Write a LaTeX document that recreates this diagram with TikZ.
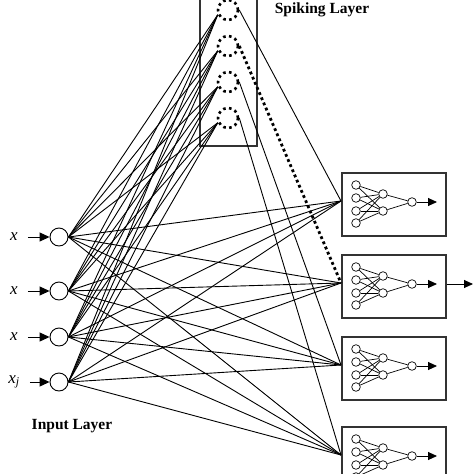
\documentclass[tikz,border=0pt]{standalone}
\usepackage{fontspec}
\setmainfont{Liberation Serif}
\usetikzlibrary{arrows.meta,
                positioning
                }

\begin{document}
\begin{tikzpicture}[x=1pt, y=-1pt,
     inpt/.style = {shape=circle, draw, minimum size=18pt, inner sep=0pt, line width=0.9pt},
    spike/.style = {shape=circle, draw, minimum size=20pt, inner sep=0pt,
                    line width=2.6pt, dash pattern=on 2.6pt off 3.4pt},
     mini/.style = {shape=circle, draw, minimum size=8.6pt, inner sep=0pt, line width=0.7pt},
   outbox/.style = {draw=black!80, line width=1.1pt, minimum width=104pt, minimum height=63pt,
                    inner sep=0pt},
     link/.style = {line width=0.9pt},
    dlink/.style = {line width=2.8pt, dash pattern=on 2.8pt off 2.8pt},
  inarrow/.style = {line width=1pt, -{Triangle[length=10pt,width=9pt]}, shorten <=9pt},
 miniarrow/.style = {line width=0.9pt, -{Triangle[length=9pt,width=8pt]}},
    title/.style = {font=\fontsize{15.5}{17}\selectfont\bfseries},
     xlab/.style = {font=\fontsize{17}{19}\selectfont\itshape, inner sep=1pt}
      ]
    \useasboundingbox (0,0) rectangle (474,474);
    \clip (0,0) rectangle (474,474);
    % input layer
    \foreach \i/\y/\t in {1/237/x, 2/291/x, 3/337/x, 4/382/x\textsubscript{j}} {
        \node (lab\i) [xlab] at (14,\y) {\t};
        \node (in\i) [inpt] at (59,\y) {};
        \draw[inarrow] (lab\i.east) -- (in\i);
    }
    \node (inlab) [title] at (72,426) {Input Layer};
    % spiking layer
    \draw[draw=black!80, line width=1.1pt] (200,-10) rectangle (257,146);
    \foreach \j/\y in {1/10, 2/46, 3/82, 4/118}
        \node (sp\j) [spike] at (228,\y) {};
    \node (splab) [title] at (322,10) {Spiking Layer};
    % output networks
    \foreach \k/\t in {1/173, 2/255, 3/337, 4/427} {
        \node (out\k) [outbox] at (394,\t+31.5) {};
        \coordinate (cv\k) at (341,\t+28);
        \begin{scope}[shift={(0,\t)}]
            \foreach \a/\ya in {1/12, 2/25, 3/38, 4/50}
                \node (m\k-\a) [mini] at (356,\ya) {};
            \node (h\k-1) [mini] at (383,21) {};
            \node (h\k-2) [mini] at (383,38) {};
            \node (o\k) [mini] at (412,29) {};
            \coordinate (e\k) at (437,29);
        \end{scope}
        \foreach \a in {1,...,4}
            \foreach \b in {1,2}
                \draw[line width=0.7pt] (m\k-\a) -- (h\k-\b);
        \draw[line width=0.7pt] (h\k-1) -- (o\k) (h\k-2) -- (o\k);
        \draw[miniarrow] (o\k) -- (e\k);
    }
    \coordinate (fin) at (473,284);
    \draw[miniarrow] (out2.east |- fin) -- (fin);
    % connections
    \foreach \i in {1,...,4} {
        \foreach \j in {1,...,4}
            \draw[link] (in\i.east) -- (sp\j.205);
        \foreach \k in {1,...,4}
            \draw[link] (in\i.east) -- (cv\k);
    }
    \draw[link] (sp1.east) -- (cv1);
    \draw[dlink] (sp2.east) -- (cv2);
    \draw[link] (sp3.east) -- (cv3);
    \draw[link] (sp4.east) -- (cv4);
\end{tikzpicture}
\end{document}
